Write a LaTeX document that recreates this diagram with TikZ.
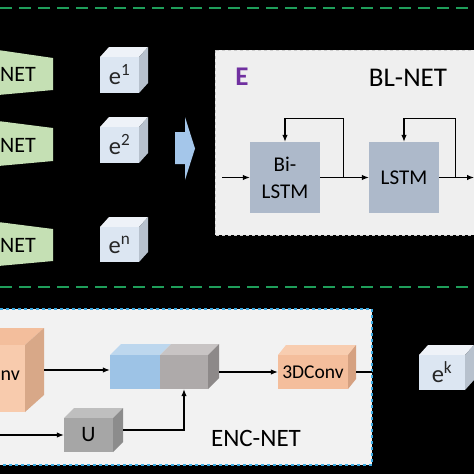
\documentclass[tikz,border=0pt]{standalone}
\usepackage{fontspec}
\setmainfont{Carlito}
\usetikzlibrary{arrows.meta,calc}
\definecolor{gdash}{HTML}{1F9E5A}
\definecolor{netgreen}{HTML}{C5E0B4}
\definecolor{ecubefront}{HTML}{DCE6F2}
\definecolor{ecubetop}{HTML}{EEF2F8}
\definecolor{ecubeside}{HTML}{B7C1CD}
\definecolor{convfront}{HTML}{F8CBAD}
\definecolor{convtop}{HTML}{F3BE9C}
\definecolor{convside}{HTML}{D8A888}
\definecolor{tconvfront}{HTML}{F4BE9C}
\definecolor{tconvtop}{HTML}{F8CDB0}
\definecolor{tconvside}{HTML}{D5A181}
\definecolor{ucubefront}{HTML}{A6A6A6}
\definecolor{ucubetop}{HTML}{BFBFBF}
\definecolor{ucubeside}{HTML}{8C8C8C}
\definecolor{catbfront}{HTML}{9DC3E6}
\definecolor{catbtop}{HTML}{BDD7EE}
\definecolor{catgfront}{HTML}{AEAAAA}
\definecolor{catgtop}{HTML}{C8C4C4}
\definecolor{catgside}{HTML}{8D8989}
\definecolor{lstmfill}{HTML}{ADB9CA}
\definecolor{blbox}{HTML}{EFEFEF}
\definecolor{encbox}{HTML}{F2F2F2}
\definecolor{encborder}{HTML}{3AA8E0}
\definecolor{bigarrow}{HTML}{A4C6EA}
\definecolor{epurple}{HTML}{7030A0}
\newcommand{\etxt}{\fontsize{24.5}{28}\selectfont\color{black!85}}
\newcommand{\mkcube}[9]{%
  \fill[fill=#8top] (#2,#3) -- ({#2+#6},{#3-#7}) -- ({#4+#6},{#3-#7}) -- (#4,#3) -- cycle;
  \fill[fill=#8side] (#4,#3) -- ({#4+#6},{#3-#7}) -- ({#4+#6},{#5-#7}) -- (#4,#5) -- cycle;
  \node[cubefront, fill=#8front, minimum width={(#4-#2)*1pt}, minimum height={(#5-#3)*1pt}] (#1) at ({(#2+#4)/2},{(#3+#5)/2}) {#9};
  \coordinate (#1-e) at ({#4+#6},{(#3+#5)/2-#7/2});
}
\begin{document}
\begin{tikzpicture}[x=1pt,y=-1pt,
  cubefront/.style={rectangle, inner sep=0pt, draw=none},
  arr/.style={-{Latex[length=7pt,width=5.5pt]}, line width=1.1pt, black},
  ln/.style={line width=1.1pt, black},
  gline/.style={draw=gdash, line width=2pt, dash pattern=on 12pt off 7pt},
  lstmbox/.style={rectangle, fill=lstmfill, minimum width=70pt, minimum height=71pt, inner sep=0pt, align=center, font=\fontsize{21}{27}\selectfont},
  nettext/.style={font=\fontsize{22}{26}\selectfont, anchor=east, inner sep=0pt},
  title/.style={font=\fontsize{27}{32}\selectfont}]
\fill[black] (0,0) rectangle (474,474);
\useasboundingbox (0,0) rectangle (474,474);
% green dashed separators
\draw[gline] (0,8) -- (474,8);
\draw[gline] (0,287) -- (474,287);
% NET trapezoids
\fill[netgreen] (-2,50) -- (53,58) -- (53,90) -- (-2,95) -- cycle;
\node[nettext] (net1) at (36,74) {NET};
\fill[netgreen] (-2,121) -- (53,128) -- (53,161) -- (-2,166) -- cycle;
\node[nettext] (net2) at (36,145) {NET};
\fill[netgreen] (-2,222) -- (53,229) -- (53,261) -- (-2,266) -- cycle;
\node[nettext] (net3) at (36,245) {NET};
% e cubes
\mkcube{e1}{100}{57}{139}{93}{9}{10}{ecube}{\etxt e\textsuperscript{1}}
\mkcube{e2}{100}{127}{139}{163}{9}{10}{ecube}{\etxt e\textsuperscript{2}}
\mkcube{en}{100}{227}{139}{262}{9}{10}{ecube}{\etxt e\textsuperscript{n}}
% big arrow
\fill[bigarrow] (175,132) -- (185,132) -- (185,117) -- (195,148.5) -- (185,180) -- (185,164) -- (175,164) -- cycle;
% BL-NET box
\draw[fill=blbox, draw=gray!40, dashed, line width=0.8pt] (215,50) rectangle (476,235);
\node[font=\bfseries\fontsize{27}{32}\selectfont, text=epurple] (E) at (242,77) {E};
\node[title] (blnet) at (408,78) {BL-NET};
\node[lstmbox] (bilstm) at (285,177.5) {Bi-\\LSTM};
\node[lstmbox] (lstm) at (404,177.5) {LSTM};
\coordinate (blin) at (222,177.5);
\coordinate (blout) at (474,177.5);
\draw[arr] (blin) -- (bilstm.west);
\draw[arr] (bilstm.east) -- (lstm.west);
\draw[arr] (lstm.east) -- (blout);
\draw[arr] ([xshift=23pt]bilstm.east) |- ([yshift=23pt]bilstm.north) -- (bilstm.north);
\draw[arr] ([xshift=16pt]lstm.east) |- ([yshift=23pt]lstm.north) -- (lstm.north);
% ENC-NET box
\draw[fill=encbox, draw=encborder, dashed, line width=1.2pt] (-3,309) rectangle (372,465);
\node[font=\fontsize{25}{30}\selectfont] (encnet) at (256,438) {ENC-NET};
% conv cube (cut)
\mkcube{conv}{-30}{345}{25}{412}{19}{17}{conv}{}
\node[anchor=east, inner sep=0pt, font=\fontsize{20}{24}\selectfont] (convt) at (20,376) {nv};
% concat block
\fill[catbtop] (110,355) -- (121,344) -- (171,344) -- (160,355) -- cycle;
\fill[catgtop] (160,355) -- (171,344) -- (219,344) -- (208,355) -- cycle;
\fill[catgside] (208,355) -- (219,344) -- (219,378) -- (208,389) -- cycle;
\node[cubefront, fill=catbfront, minimum width=50pt, minimum height=34pt] (catb) at (135,372) {};
\node[cubefront, fill=catgfront, minimum width=48pt, minimum height=34pt] (catg) at (184,372) {};
\coordinate (cat-e) at (219,372);
% U cube
\mkcube{U}{64}{418}{113}{452}{10}{10}{ucube}{\fontsize{22}{25}\selectfont U}
% 3DConv cube
\mkcube{tconv}{278}{355}{348}{389}{8}{10}{tconv}{\fontsize{19.5}{23}\selectfont 3DConv}
% e^k cube
\mkcube{ek}{419}{355}{465}{390}{9}{10}{ecube}{\etxt e\textsuperscript{k}}
% ENC connectors
\coordinate (uin) at (-2,435);
\coordinate (encout) at (372,372);
\draw[arr] (conv-e) -- (conv-e -| catb.west);
\draw[arr] (uin) -- (U.west);
\draw[arr] (U-e) -| (catg.south);
\draw[arr] (cat-e) -- (tconv.west);
\draw[ln] (tconv-e |- tconv.east) -- (encout);
\end{tikzpicture}
\end{document}
